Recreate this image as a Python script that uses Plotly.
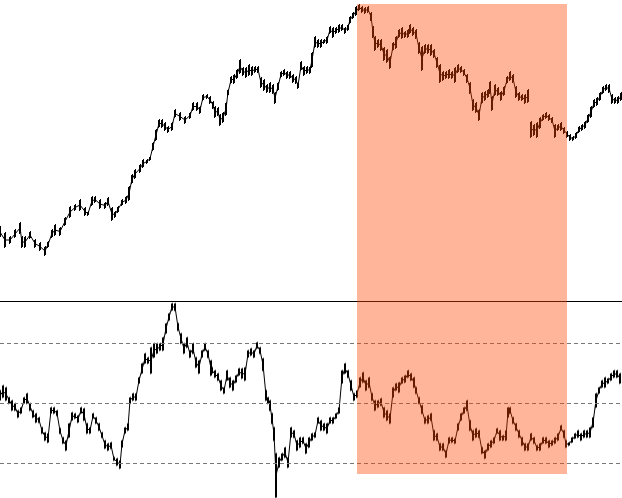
import plotly.graph_objects as go
from plotly.subplots import make_subplots

# ---------------- data ----------------
price_days = [0, 5, 10, 15, 20, 22, 25, 30, 35, 40, 45, 48, 52, 55, 60, 65, 70, 75, 80, 85, 88, 92, 95,
              100, 105, 108, 112, 115, 118, 122, 126, 129, 132, 135, 140, 143, 147, 150, 153, 156, 159,
              162, 165, 168, 172, 175, 180, 185, 190, 193, 197, 200, 203, 207, 210, 213, 215, 218, 220,
              223, 226, 228, 231, 234, 237, 240, 243, 246, 249, 252, 255, 258, 261, 264, 267, 270, 273,
              275, 278, 281, 284, 287, 290, 293, 296, 298, 301, 304, 307, 310, 312, 315, 318, 321, 324,
              327, 330, 333, 336, 339, 342, 345, 348, 350, 353, 356, 359, 362, 365, 368, 371, 373, 375,
              378, 381, 384, 387, 390, 393, 396, 399, 402, 405, 408, 410, 413, 416, 419, 422, 425, 428,
              431, 434, 437, 440, 443, 446, 449, 452, 455, 458, 461, 464, 467, 470, 473, 476, 479, 482,
              485, 488, 490, 492, 495, 498, 501, 504, 507, 510, 513, 516, 519, 522, 525, 528, 531, 534,
              537, 540, 543, 546, 549, 552, 555, 558, 561, 564, 567, 570, 573, 576, 579, 582, 585, 588,
              591, 594, 597, 600, 603, 606, 609, 612, 615, 618, 621]
price_high = [73, 67, 63, 70, 77, 63, 63, 68, 60, 57, 53, 58, 70, 75, 72, 82, 93, 95, 100, 92, 88, 103, 103,
              100, 97, 102, 92, 88, 93, 100, 103, 113, 125, 130, 135, 140, 140, 143, 157, 170, 180,
              180, 177, 173, 177, 190, 187, 183, 187, 197, 197, 193, 205, 205, 203, 198, 193, 192, 185,
              187, 197, 210, 223, 225, 230, 240, 232, 232, 235, 233, 233, 233, 222, 220, 215, 217, 215,
              207, 217, 228, 230, 228, 228, 225, 223, 217, 238, 233, 233, 233, 247, 263, 260, 260, 260,
              263, 273, 272, 272, 275, 275, 272, 275, 283, 287, 293, 295, 293, 292, 293, 287, 273, 263,
              260, 260, 252, 250, 243, 257, 263, 270, 272, 268, 270, 275, 272, 270, 257, 253, 255, 255,
              255, 250, 242, 235, 228, 228, 230, 228, 232, 235, 233, 230, 225, 217, 200, 197, 190, 207,
              208, 210, 218, 203, 215, 212, 208, 213, 223, 228, 225, 213, 207, 205, 205, 210, 178, 175,
              177, 182, 185, 187, 185, 182, 175, 175, 177, 172, 168, 165, 163, 167, 173, 175, 178, 185,
              193, 200, 202, 207, 213, 215, 215, 205, 202, 203, 207]
price_low = [63, 53, 57, 63, 67, 53, 53, 62, 53, 50, 45, 53, 63, 65, 65, 75, 83, 90, 90, 85, 85, 95, 98,
             92, 92, 95, 80, 83, 88, 95, 97, 100, 117, 122, 128, 133, 137, 140, 150, 160, 173,
             173, 170, 168, 170, 183, 180, 177, 182, 190, 190, 187, 200, 202, 197, 192, 183, 185, 175,
             178, 185, 205, 217, 217, 222, 227, 225, 223, 225, 225, 228, 228, 213, 210, 208, 208, 207,
             197, 210, 223, 225, 222, 222, 218, 217, 212, 230, 225, 227, 227, 233, 253, 253, 253, 257,
             257, 267, 263, 267, 268, 270, 267, 270, 277, 282, 285, 290, 288, 287, 288, 280, 263, 250,
             253, 250, 240, 238, 232, 250, 252, 263, 262, 263, 263, 267, 265, 262, 247, 230, 247, 247,
             245, 243, 233, 218, 220, 222, 222, 222, 218, 228, 228, 225, 218, 207, 190, 188, 180, 197,
             200, 203, 207, 190, 205, 205, 200, 205, 217, 220, 218, 203, 200, 200, 197, 198, 163, 165,
             163, 172, 180, 182, 180, 178, 163, 170, 170, 167, 163, 160, 160, 162, 168, 170, 172, 178,
             183, 193, 195, 200, 207, 210, 208, 197, 197, 197, 200]

osc_days = [0, 3, 6, 9, 12, 15, 18, 21, 24, 27, 30, 33, 36, 39, 42, 45, 48, 51, 54, 57, 60, 63, 66, 69,
            72, 75, 78, 81, 84, 87, 90, 93, 96, 99, 102, 105, 108, 111, 114, 117, 120, 122, 125, 128,
            130, 133, 136, 139, 142, 145, 148, 151, 154, 157, 160, 163, 166, 169, 172, 175, 178, 181,
            184, 187, 190, 193, 196, 199, 202, 205, 208, 211, 212, 215, 218, 221, 224, 227, 230, 233,
            236, 239, 242, 245, 248, 251, 254, 257, 260, 263, 266, 268, 270, 272, 274, 276, 279, 282,
            285, 288, 291, 294, 297, 300, 303, 306, 309, 312, 315, 318, 321, 324, 327, 330, 333, 336,
            339, 342, 345, 348, 351, 354, 357, 360, 363, 366, 369, 372, 375, 378, 381, 384, 387, 390,
            393, 396, 399, 402, 405, 408, 411, 414, 416, 419, 422, 425, 428, 431, 434, 437, 440, 443,
            446, 449, 452, 455, 458, 461, 464, 467, 470, 473, 476, 479, 482, 485, 488, 491, 494, 497,
            500, 503, 506, 508, 510, 513, 516, 519, 522, 525, 528, 531, 534, 537, 540, 543, 546, 549,
            552, 555, 558, 561, 564, 566, 569, 572, 575, 578, 581, 584, 587, 590, 593, 596, 599, 602,
            605, 608, 611, 614, 617, 620]
osc_high = [13, 18, 16, 6, 3, 0, -7, -4, 6, 10, 0, -7, -10, -14, -24, -29, -30, -4, -4, -7, -25, -34, -37, -20,
            -9, -10, -12, -4, -5, -20, -24, -10, -14, -20, -29, -37, -40, -39, -54, -55, -57, -37, -24, -20,
            6, 10, 10, 26, 40, 50, 46, 56, 60, 60, 60, 66, 80, 90, 100, 100, 80, 70,
            60, 66, 53, 60, 46, 43, 53, 60, 53, 43, 36, 33, 30, 23, 16, 33, 26, 23,
            28, 35, 35, 36, 53, 55, 53, 61, 56, 45, 13, 6, 3, -10, -24, -50, -54, -50,
            -44, -54, -24, -27, -37, -34, -34, -40, -34, -30, -29, -14, -17, -20, -20, -14, -14, -10,
            -4, 33, 40, 33, 23, 10, 13, 26, 31, 23, 26, 10, 3, 3, 5, -4, -7, -10,
            16, 20, 21, 26, 28, 33, 30, 26, 16, 6, -2, -14, -12, -10, -27, -30, -40, -40,
            -47, -34, -34, -35, -20, -10, -4, 3, -17, -27, -25, -27, -44, -47, -40, -37, -34, -25,
            -27, -32, -27, -4, -4, -14, -20, -27, -34, -40, -40, -30, -34, -42, -40, -34, -34, -37,
            -37, -34, -30, -22, -27, -37, -39, -34, -30, -27, -30, -27, -27, -24, -14, 10, 16, 23,
            26, 25, 30, 33, 33, 30]
osc_low = [3, 6, 3, 0, -7, -7, -14, -10, 0, 0, -7, -14, -19, -19, -30, -37, -39, -10, -10, -12, -30, -40, -47, -34,
           -17, -15, -19, -10, -17, -30, -30, -15, -20, -27, -34, -45, -47, -45, -57, -62, -65, -44, -30, -27,
           0, 3, 3, 20, 30, 40, 40, 30, 46, 50, 53, 53, 70, 83, 93, 93, 73, 60,
           50, 56, 46, 50, 36, 30, 46, 53, 46, 28, 30, 26, 23, 13, 10, 23, 16, 13,
           21, 28, 25, 23, 46, 48, 46, 55, 50, 33, 3, 0, -7, -20, -37, -94, -64, -57,
           -54, -64, -34, -34, -47, -44, -40, -50, -44, -37, -34, -20, -27, -27, -30, -20, -20, -15,
           -10, 20, 30, 26, 13, 3, 6, 16, 21, 13, 16, 3, -7, -4, -2, -14, -17, -20,
           6, 13, 11, 20, 21, 26, 23, 16, 10, 0, -10, -20, -20, -17, -37, -37, -47, -47,
           -54, -40, -39, -40, -27, -17, -10, -7, -27, -37, -34, -34, -50, -55, -47, -44, -40, -30,
           -37, -37, -37, -14, -10, -20, -27, -34, -42, -47, -47, -37, -40, -47, -47, -40, -40, -44,
           -42, -40, -37, -27, -34, -44, -42, -39, -35, -34, -37, -34, -34, -34, -24, -4, 10, 16,
           16, 20, 23, 26, 26, 20]

osc_levels = [60, 0, -60]
shade_start, shade_end = 357, 567
price_gap_after = 528  # the price series has a short break here

# ---------------- figure ----------------
split = 197 / 498
fig = make_subplots(rows=2, cols=1, shared_xaxes=False, vertical_spacing=0)


def mid_line(days, hi, lo, gap=None):
    xs, ys = [], []
    for d, h, l in zip(days, hi, lo):
        xs.append(d)
        ys.append((h + l) / 2)
        if gap is not None and d == gap:
            xs.append(None)
            ys.append(None)
    return xs, ys


px_, py_ = mid_line(price_days, price_high, price_low, price_gap_after)
ox_, oy_ = mid_line(osc_days, osc_high, osc_low)

fig.add_trace(go.Scatter(x=px_, y=py_, mode="lines", line=dict(color="black", width=1),
                         hoverinfo="skip", showlegend=False), row=1, col=1)
fig.add_trace(go.Ohlc(x=price_days, open=price_low, high=price_high, low=price_low, close=price_high,
                      increasing_line_color="black", decreasing_line_color="black",
                      line_width=2, tickwidth=0.5, hoverinfo="skip", showlegend=False), row=1, col=1)
fig.add_trace(go.Scatter(x=ox_, y=oy_, mode="lines", line=dict(color="black", width=1),
                         hoverinfo="skip", showlegend=False), row=2, col=1)
fig.add_trace(go.Ohlc(x=osc_days, open=osc_low, high=osc_high, low=osc_low, close=osc_high,
                      increasing_line_color="black", decreasing_line_color="black",
                      line_width=2, tickwidth=0.5, hoverinfo="skip", showlegend=False), row=2, col=1)

axis_common = dict(showgrid=False, zeroline=False, showticklabels=False, ticks="", showline=False)
fig.update_layout(
    width=622, height=498,
    margin=dict(l=0, r=0, t=0, b=0),
    paper_bgcolor="white", plot_bgcolor="white",
    showlegend=False,
    xaxis=dict(domain=[0, 1], range=[0, 622], rangeslider=dict(visible=False), **axis_common),
    xaxis2=dict(domain=[0, 1], range=[0, 622], rangeslider=dict(visible=False), **axis_common),
    yaxis=dict(domain=[split, 1], range=[-1, 300], **axis_common),
    yaxis2=dict(domain=[0, split], range=[-94.5, 102.5], **axis_common),
)

for lv in osc_levels:
    fig.add_shape(type="line", xref="paper", x0=0, x1=1, yref="y2", y0=lv, y1=lv,
                  line=dict(color="#777777", width=1, dash="4px,3px"), layer="above")
fig.add_shape(type="line", xref="paper", x0=0, x1=1, yref="paper", y0=196.5 / 498, y1=196.5 / 498,
              line=dict(color="black", width=1), layer="above")
fig.add_shape(type="rect", xref="x", x0=shade_start, x1=shade_end, yref="paper",
              y0=24 / 498, y1=494 / 498, fillcolor="rgba(255,69,0,0.4)", line_width=0, layer="above")

fig.write_html("out.html", config={"displayModeBar": False, "staticPlot": True},
               post_script="document.body.style.margin='0';document.body.style.overflow='hidden';")
